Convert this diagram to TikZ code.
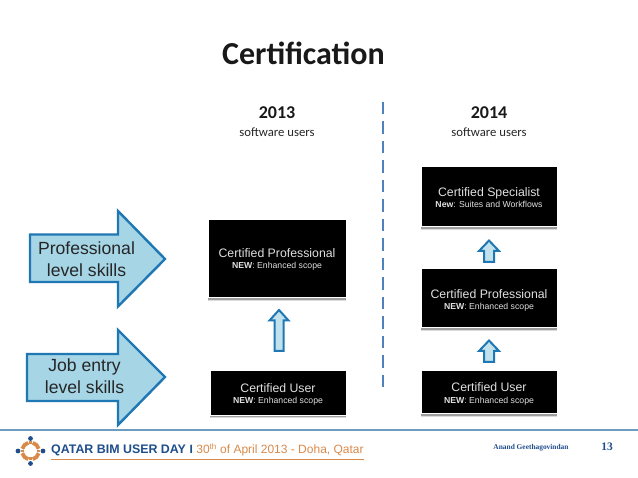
\documentclass[tikz,border=0pt]{standalone}
\usepackage{fontspec}
\setmainfont{Liberation Sans}
\newfontfamily\carlito{Carlito}
\newfontfamily\serifname{Liberation Serif}
\usetikzlibrary{calc}
\definecolor{arrowline}{HTML}{1F77B4}
\definecolor{arrowfill}{HTML}{A6D5E6}
\definecolor{rulecol}{HTML}{6F9BBF}
\definecolor{dashcol}{HTML}{4F81BD}
\definecolor{qblue}{HTML}{1F4E8C}
\definecolor{qorange}{HTML}{D98A4B}
\tikzset{
  certbox/.style={fill=black,draw=white,line width=1pt,inner sep=0pt,
     preaction={draw=none,fill=black!14,transform canvas={yshift=-3pt}},
     preaction={draw=none,fill=black!38,transform canvas={yshift=-1.8pt}}},
  certtext/.style={text=white!88!black,align=center,inner sep=0pt},
  bigarrow/.style={draw=arrowline,fill=arrowfill,line width=2.4pt,line join=miter},
  smallarrow/.style={draw=arrowline,fill=arrowfill!70!white,line width=2pt,line join=miter},
  biglabel/.style={font=\fontsize{17.6}{22.3}\selectfont,align=center,text=black!85},
  yearlabel/.style={font=\carlito\bfseries\fontsize{18}{20}\selectfont,text=black!90},
  sublabel/.style={font=\carlito\fontsize{12.7}{15}\selectfont,text=black!85},
}
\newcommand{\cert}[2]{{\fontsize{12.3}{15}\selectfont #1}\\[-0.4pt]{\fontsize{8.7}{11}\selectfont #2}}
\begin{document}
\begin{tikzpicture}[x=1pt,y=-1pt]
\useasboundingbox (0,0) rectangle (638,478);
\fill[white] (0,0) rectangle (638,478);
% title
\node[font=\carlito\bfseries\fontsize{32}{36}\selectfont,text=black!90] (title) at (303.5,53) {Certification};
\node[yearlabel] (y13) at (277,113) {2013};
\node[sublabel] (s13) at (277,132) {software users};
\node[yearlabel] (y14) at (489,113) {2014};
\node[sublabel] (s14) at (489,132) {software users};
% divider
\coordinate (dtop) at (383,102);
\coordinate (dbot) at (383,387);
\draw[dashcol,line width=1.5pt,dash pattern=on 12.5pt off 7pt] (dtop) -- (dbot);
% boxes
\node[certbox,minimum width=138pt,minimum height=78pt] (cp13) at (277,259) {};
\node[certbox,minimum width=136pt,minimum height=45pt] (cu13) at (278,393) {};
\node[certbox,minimum width=136pt,minimum height=60pt] (cs14) at (489,197) {};
\node[certbox,minimum width=136pt,minimum height=59pt] (cp14) at (489,298.5) {};
\node[certbox,minimum width=136pt,minimum height=43pt] (cu14) at (489,392.5) {};
\node[certtext] (tcp13) at ($(cp13.center)+(0,0.5)$) {\cert{Certified Professional}{\textbf{NEW}: Enhanced scope}};
\node[certtext] (tcu13) at ($(cu13.center)+(0,1.5)$) {\cert{Certified User}{\textbf{NEW}: Enhanced scope}};
\node[certtext] (tcs14) at (489,197.5) {\cert{Certified Specialist}{\textbf{New}: Suites and Workflows}};
\node[certtext] (tcp14) at (489,300.5) {\cert{Certified Professional}{\textbf{NEW}: Enhanced scope}};
\node[certtext] (tcu14) at (489,394) {\cert{Certified User}{\textbf{NEW}: Enhanced scope}};
% small arrows
\draw[smallarrow] (274.5,351) -- (274.5,320.5) -- (269.5,320.5) -- (279,310) -- (288.5,320.5) -- (283.5,320.5) -- (283.5,351) -- cycle;
\draw[smallarrow] (484,262) -- (484,251) -- (479,251) -- (489,240.5) -- (499,251) -- (494,251) -- (494,262) -- cycle;
\draw[smallarrow] (484,362) -- (484,351) -- (479,351) -- (489,340.5) -- (499,351) -- (494,351) -- (494,362) -- cycle;
% big arrows
\draw[bigarrow] (30,234.5) -- (118,234.5) -- (118,211) -- (165,259) -- (118,306.5) -- (118,282) -- (30,282) -- cycle;
\draw[bigarrow] (27,354) -- (118,354) -- (118,330) -- (165,377) -- (118,425) -- (118,401) -- (27,401) -- cycle;
\node[biglabel] (prof) at (86.5,259.5) {Professional\\level skills};
\node[biglabel] (job) at (84.5,376.5) {Job entry\\level skills};
% footer
\coordinate (fl) at (0,430);
\coordinate (fr) at (638,430);
\draw[rulecol,line width=1.3pt] (fl) -- (fr);
% logo
\coordinate (logo) at (30.5,451);
\foreach \a in {45,135,225,315}{
  \draw[qorange,line width=3.8pt] ($(logo)+(\a-30:8.5)$) arc[start angle=\a-30,end angle=\a+30,radius=8.5];
}
\foreach \a in {0,90,180,270}{
  \draw[qorange,line width=2.6pt] ($(logo)+(\a:6.5)$) -- ($(logo)+(\a:9.5)$);
  \fill[qblue] ($(logo)+(\a:12.5)$) circle (2.4pt);
}
% footer text
\node[anchor=west,font=\bfseries\fontsize{12.4}{14}\selectfont,text=qblue,inner sep=0pt] (fa) at (51,450) {QATAR BIM USER DAY};
\node[anchor=west,font=\fontsize{12}{14}\selectfont,inner sep=0pt,text=qorange] (fb) at (189.5,450) {{\color{qblue}\textbf{I}} 30\textsuperscript{th} of April 2013 - Doha, Qatar};
\coordinate (ul) at (51,459.5);
\coordinate (ur) at (364,459.5);
\draw[qorange,line width=1pt] (ul) -- (ur);
\node[anchor=center,font=\serifname\bfseries\fontsize{7.4}{10}\selectfont,text=qblue] (author) at (531,448) {Anand Geethagovindan};
\node[anchor=center,font=\serifname\bfseries\fontsize{11.5}{13}\selectfont,text=qblue] (pg) at (607,447) {13};
\end{tikzpicture}
\end{document}
